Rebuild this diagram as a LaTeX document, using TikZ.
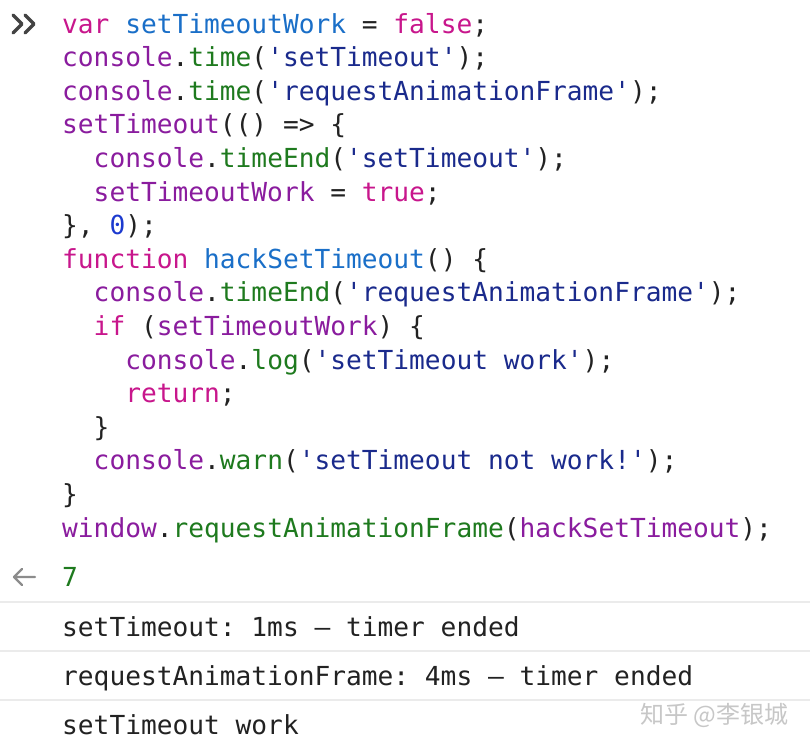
\documentclass[tikz,border=0pt]{standalone}
\usepackage{fontspec}
\setmonofont{DejaVu Sans Mono}
\newfontfamily\cjk{Noto Sans CJK SC}
\definecolor{ckw}{HTML}{C8168C}
\definecolor{cvr}{HTML}{1A6FC8}
\definecolor{cst}{HTML}{1A2A8C}
\definecolor{cpr}{HTML}{8A1C9E}
\definecolor{cfn}{HTML}{1E7A1E}
\definecolor{cnm}{HTML}{1C3ACF}
\definecolor{ctx}{HTML}{222222}
\newcommand\kw[1]{\textcolor{ckw}{#1}}
\newcommand\vr[1]{\textcolor{cvr}{#1}}
\newcommand\st[1]{\textcolor{cst}{#1}}
\newcommand\pr[1]{\textcolor{cpr}{#1}}
\newcommand\fn[1]{\textcolor{cfn}{#1}}
\newcommand\nm[1]{\textcolor{cnm}{#1}}
\newcommand\qq{\char"27}
\begin{document}
\begin{tikzpicture}[x=1pt,y=-1pt,
  code/.style={anchor=base west,inner sep=0pt,font=\ttfamily\fontsize{26.2}{30}\selectfont,text=ctx},
  sep/.style={draw=black!8,line width=1.2pt}]
\useasboundingbox (0,0) rectangle (810,748);
\fill[white] (0,0) rectangle (810,748);
\def\L#1#2{\node[code] (l#1) at (62,{33+33.6*#1}) {#2};}
\L{0}{\kw{var} \vr{setTimeoutWork} = \kw{false};}
\L{1}{\pr{console}.\fn{time}(\st{\qq setTimeout\qq});}
\L{2}{\pr{console}.\fn{time}(\st{\qq requestAnimationFrame\qq});}
\L{3}{\pr{setTimeout}(() => \{}
\L{4}{\ \ \pr{console}.\fn{timeEnd}(\st{\qq setTimeout\qq});}
\L{5}{\ \ \pr{setTimeoutWork} = \kw{true};}
\L{6}{\}, \nm{0});}
\L{7}{\kw{function} \vr{hackSetTimeout}() \{}
\L{8}{\ \ \pr{console}.\fn{timeEnd}(\st{\qq requestAnimationFrame\qq});}
\L{9}{\ \ \kw{if} (\pr{setTimeoutWork}) \{}
\L{10}{\ \ \ \ \pr{console}.\fn{log}(\st{\qq setTimeout work\qq});}
\L{11}{\ \ \ \ \kw{return};}
\L{12}{\ \ \}}
\L{13}{\ \ \pr{console}.\fn{warn}(\st{\qq setTimeout not work!\qq});}
\L{14}{\}}
\L{15}{\pr{window}.\fn{requestAnimationFrame}(\pr{hackSetTimeout});}
% prompt chevrons
\draw[ctx!85,line width=3.2pt,line cap=round,line join=round] (13,15)--(22,24)--(13,33) (25,15)--(34,24)--(25,33);
% result
\draw[black!45,line width=2.4pt,line cap=round,line join=round] (35,577)--(14,577) (22,569)--(14,577)--(22,585);
\node[code,text=cfn] (res) at (62,586) {7};
\draw[sep] (0,602)--(810,602);
\draw[sep] (0,651)--(810,651);
\draw[sep] (0,700)--(810,700);
\node[code] (o1) at (62,636) {setTimeout: 1ms – timer ended};
\node[code] (o2) at (62,685) {requestAnimationFrame: 4ms – timer ended};
\node[code] (o3) at (62,734) {setTimeout work};
\node[anchor=west,inner sep=0pt,text=black!22,font=\cjk\fontsize{24}{26}\selectfont] (wm) at (640,715) {知乎 @李银城};
\end{tikzpicture}
\end{document}
